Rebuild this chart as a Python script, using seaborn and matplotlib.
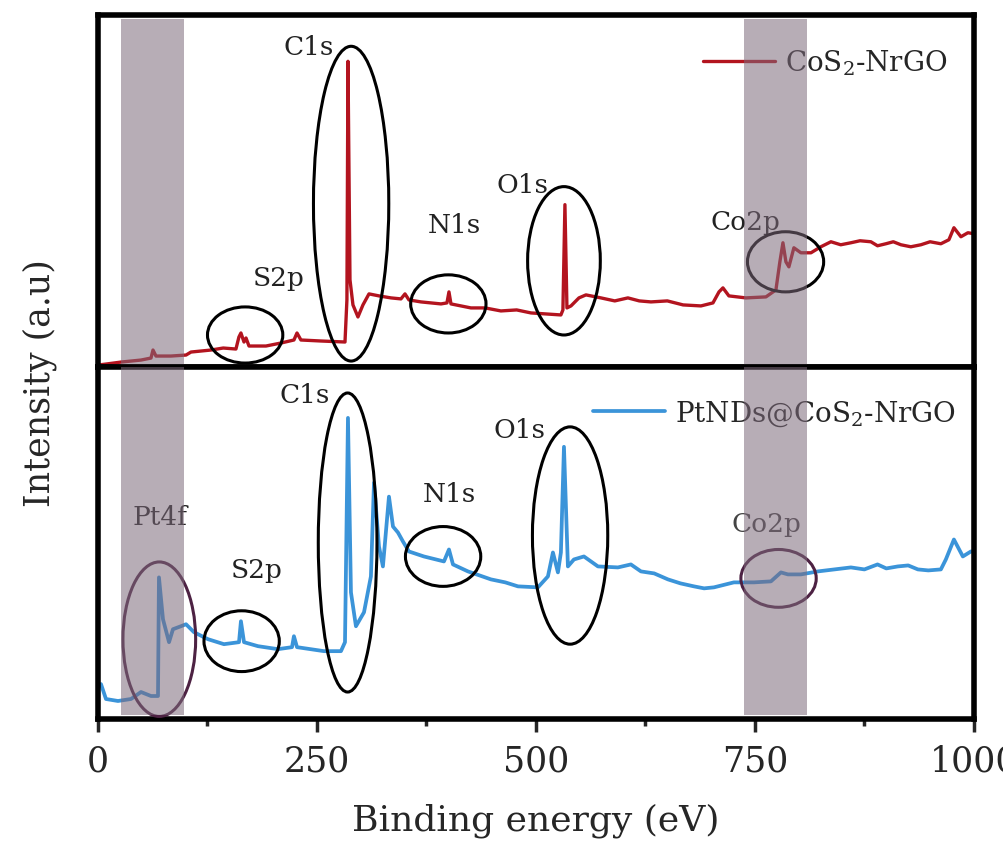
import matplotlib
matplotlib.use("Agg")
import matplotlib.pyplot as plt
from matplotlib.patches import Ellipse
import seaborn as sns

# ---------------- data (eV, a.u.) ----------------
top_x = [0, 9.1, 26.3, 49.1, 60.5, 62.8, 66.2, 83.3, 100.5, 106.2,
         129, 143, 157.5, 160.9, 163.2, 166.7, 169, 172.4, 191.8, 208.9,
         223.7, 227.2, 231.7, 254.6, 282, 284.2, 285.4, 287.7, 291.1, 296.8,
         302.5, 309.4, 320.8, 334.5, 345.9, 350.5, 355, 368.7, 391.6, 398.4,
         400.7, 403, 425.8, 442, 460, 478, 494.3, 528.5, 530.8, 533.1,
         535.4, 540, 549.1, 557.1, 574.2, 590, 605, 618, 631.3, 650,
         668, 688.4, 702.1, 709, 713.5, 720.3, 739.7, 762.6, 774, 778.5,
         782, 785.4, 788.8, 794.5, 802.5, 814, 825.3, 836.8, 848, 859.6,
         870, 882.4, 890, 899.5, 908, 916.7, 928, 939.5, 950, 962.3,
         971.5, 977.2, 985.2, 993.2, 1000]
top_y = [2, 3, 5, 7, 9, 17, 11, 11, 12, 15,
         17, 19, 18, 30, 34, 25, 29, 21, 21, 24,
         27, 34, 27, 26, 25, 67, 305, 87, 62, 50,
         62, 73, 71, 69, 68, 73, 67, 65, 63, 64,
         75, 63, 59, 59, 56, 57, 54, 52, 57, 162,
         59, 61, 69, 72, 69, 66, 69, 66, 65, 66,
         62, 61, 64, 75, 79, 71, 69, 70, 77, 105,
         124, 105, 100, 119, 114, 114, 120, 125, 122, 124,
         126, 125, 121, 123, 125, 122, 120, 122, 125, 123,
         127, 139, 130, 134, 133]

bot_x = [0, 3.4, 9.1, 22.8, 37.7, 49.1, 60.5, 68.5, 69.6, 74.2,
         81.1, 85.6, 94.7, 100.5, 109.6, 125.6, 143.8, 161, 163.2, 166.7,
         182.6, 205.5, 221.5, 223.7, 227.2, 258, 277.4, 282, 285.4, 288.8,
         294.5, 303.7, 311.6, 315.1, 320.8, 325.3, 332.2, 336.8, 342.5, 348.2,
         355, 372.1, 395, 400.7, 405.3, 422.4, 448.6, 465, 479.5, 502.3,
         513.7, 519.4, 525.1, 528.5, 532, 536.5, 543.4, 554.8, 570.8, 593.6,
         608.4, 619.9, 635, 650.7, 665, 680.4, 692, 703.2, 726, 748.9,
         768.3, 779.7, 787.7, 802.5, 821.9, 859.6, 875, 890, 900, 913.2,
         925, 936.1, 948, 962.3, 968, 977.2, 987.4, 996.6, 1000]
bot_y = [32, 35, 20, 18, 20, 27, 23, 23, 142, 100,
         77, 90, 93, 95, 87, 80, 75, 77, 98, 77,
         73, 70, 72, 83, 72, 68, 68, 77, 302, 127,
         93, 107, 143, 237, 173, 153, 223, 193, 187, 178,
         168, 163, 158, 170, 155, 148, 140, 137, 133, 132,
         143, 167, 147, 167, 273, 153, 160, 163, 153, 152,
         155, 148, 146, 140, 136, 133, 131, 132, 137, 137,
         138, 147, 145, 145, 148, 152, 150, 155, 151, 153,
         154, 150, 149, 150, 160, 180, 163, 168, 168]

top_name = "CoS$_2$-NrGO"
bot_name = "PtNDs@CoS$_2$-NrGO"

# peak labels: (text, x, y)
top_labels = [("C1s", 241, 320), ("S2p", 206, 89), ("N1s", 407, 142), ("O1s", 485, 182), ("Co2p", 739, 145)]
bot_labels = [("C1s", 236, 325), ("Pt4f", 71, 203), ("S2p", 181, 150), ("N1s", 401, 226),
              ("O1s", 481, 290), ("Co2p", 763, 196)]

# highlight circles: (x, y, width, height)
top_rings = [(168, 32, 86, 56), (289, 163, 86, 314), (400, 63, 86, 58), (532, 106, 83, 148),
             (785, 105, 87, 60)]
bot_rings = [(164, 78, 86, 61), (285, 177, 67, 300), (394, 163, 86, 60), (539, 184, 86, 218)]
bot_rings_purple = [(70, 80, 83, 155), (777, 141, 86, 58)]

bands = [(26, 98), (737, 809)]

RED = "#b3141f"
BLUE = "#3b94d9"
BAND = "#7d6a7b"
PURPLE = "#4d2243"

sns.set_style("white")
plt.rcParams["font.family"] = ["DejaVu Serif"]
plt.rcParams["mathtext.fontset"] = "dejavuserif"

fig, (ax1, ax2) = plt.subplots(2, 1, sharex=True, figsize=(10.04, 8.53), dpi=100)
fig.subplots_adjust(left=0.0976, right=0.970, top=0.981, bottom=0.156, hspace=0)

sns.lineplot(x=top_x, y=top_y, ax=ax1, color=RED, lw=2.4, estimator=None, sort=False, label=top_name)
sns.lineplot(x=bot_x, y=bot_y, ax=ax2, color=BLUE, lw=2.7, estimator=None, sort=False, label=bot_name)

ax1.set_xlim(0, 1000)
ax1.set_ylim(0, 351)
ax2.set_ylim(0, 353)

for ax in (ax1, ax2):
    for s in ax.spines.values():
        s.set_linewidth(4)
        s.set_color("black")
    ax.set_yticks([])
    ax.set_ylabel("")

ax1.tick_params(axis="x", which="both", bottom=False, labelbottom=False)
ax2.set_xticks([0, 250, 500, 750, 1000])
ax2.set_xticks([125, 375, 625, 875], minor=True)
ax2.tick_params(axis="x", which="major", direction="out", length=9, width=2.5, pad=9,
                labelsize=25, bottom=True)
ax2.tick_params(axis="x", which="minor", direction="out", length=5, width=2.5, bottom=True)
ax2.set_xlabel("Binding energy (eV)", fontsize=26, labelpad=18)
fig.text(0.040, 0.551, "Intensity (a.u)", rotation=90, fontsize=25, ha="center", va="center")

for txt, x, y in top_labels:
    ax1.text(x, y, txt, fontsize=19, ha="center", va="center", color="#222222")
for txt, x, y in bot_labels:
    c = "#444444" if txt == "Co2p" else "#222222"
    ax2.text(x, y, txt, fontsize=19, ha="center", va="center", color=c)

for x, y, w, h in top_rings:
    ax1.add_patch(Ellipse((x, y), w, h, fill=False, ec="black", lw=2.2, zorder=4))
for x, y, w, h in bot_rings:
    ax2.add_patch(Ellipse((x, y), w, h, fill=False, ec="black", lw=2.2, zorder=4))
for x, y, w, h in bot_rings_purple:
    ax2.add_patch(Ellipse((x, y), w, h, fill=False, ec=PURPLE, lw=2.2, zorder=4))

ax1.legend(loc="center left", bbox_to_anchor=(0.6906, 0.866), frameon=False, fontsize=20,
           handlelength=2.6, handletextpad=0.35, borderpad=0, borderaxespad=0)
ax2.legend(loc="center left", bbox_to_anchor=(0.565, 0.870), frameon=False, fontsize=20,
           handlelength=2.6, handletextpad=0.35, borderpad=0, borderaxespad=0)

# translucent bands laid over everything (they also tint the divider line)
for lo, hi in bands:
    ax1.axvspan(lo, hi, ymin=0, ymax=0.99, color=BAND, alpha=0.55, lw=0, zorder=10, clip_on=False)
    ax2.axvspan(lo, hi, ymin=0.01, ymax=1, color=BAND, alpha=0.55, lw=0, zorder=10, clip_on=False)

fig.savefig("out.png", dpi=100)
